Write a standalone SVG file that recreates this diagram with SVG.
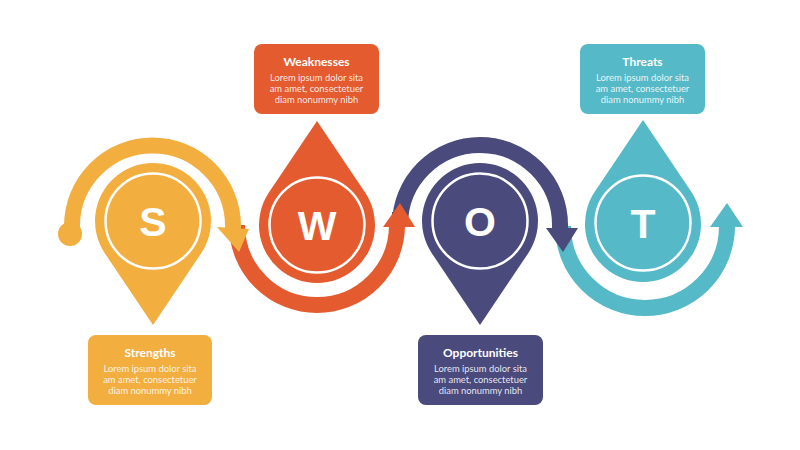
<svg xmlns="http://www.w3.org/2000/svg" xmlns:xlink="http://www.w3.org/1999/xlink" width="800" height="450" viewBox="0 0 800 450">
<style>
.title{font-family:Lato,"Open Sans","Liberation Sans",sans-serif;font-weight:bold;font-size:12px;fill:#fff;text-anchor:middle}
.body{font-family:Lato,"Open Sans","Liberation Sans",sans-serif;font-size:9.4px;fill:#fff;fill-opacity:0.88;text-anchor:middle}
.letter{font-family:"Liberation Sans",Arial,sans-serif;font-weight:bold;font-size:41px;fill:#fff;text-anchor:middle}
.ring{fill:none;stroke:#fff;stroke-width:2.5}
.arc{fill:none;stroke-width:16}
.y{fill:#F3AE40}.o{fill:#E35B2E}.n{fill:#4A4A7D}.t{fill:#56B9C7}
.ys{stroke:#F3AE40}.os{stroke:#E35B2E}.ns{stroke:#4A4A7D}.ts{stroke:#56B9C7}
</style>
<defs>
<path id="pin" d="M0 104 L-48.1 32.4 A58 58 0 1 1 48.1 32.4 Z"/>
</defs>
<rect width="800" height="450" fill="#fff"/>
<g id="connectors">
<path class="arc ts" d="M563 238 L563 226 A82 82 0 0 0 727 226 L727 222"/>
<path class="arc ns" d="M400 212 L400 225 A80 80 0 0 1 560 225 L560 232"/>
<path class="arc os" d="M237 238 L237 225 A80 80 0 0 0 397 225 L397 222"/>
<path class="arc ys" d="M72 234 L72 226 A80.5 80.5 0 0 1 233 226 L233 232"/>
<circle class="y" cx="70" cy="234" r="12"/>
<polygon class="y" points="217,227 249,229 239,252"/>
<polygon class="o" points="383,227 415,227 400,203"/>
<polygon class="n" points="546,228 578,228 563,252"/>
<polygon class="t" points="710,227 743,227 727,203"/>
</g>
<g id="node-S">
<use xlink:href="#pin" href="#pin" class="y" transform="translate(153,221)"/>
<circle class="ring" cx="153" cy="221" r="47.5"/>
<text class="letter" x="153" y="236">S</text>
</g>
<g id="node-W">
<use xlink:href="#pin" href="#pin" class="o" transform="translate(317,225) rotate(180)"/>
<circle class="ring" cx="317" cy="225" r="47.5"/>
<text class="letter" x="317" y="240">W</text>
</g>
<g id="node-O">
<use xlink:href="#pin" href="#pin" class="n" transform="translate(480,221)"/>
<circle class="ring" cx="480" cy="221" r="47.5"/>
<text class="letter" x="480" y="236">O</text>
</g>
<g id="node-T">
<use xlink:href="#pin" href="#pin" class="t" transform="translate(643,224) rotate(180)"/>
<circle class="ring" cx="643" cy="223" r="47.5"/>
<text class="letter" x="643" y="238">T</text>
</g>
<g id="box-strengths">
<rect class="y" x="88" y="335" width="124" height="70" rx="8"/>
<text class="title" x="150" y="357">Strengths</text>
<text class="body" x="150" y="372">Lorem ipsum dolor sita</text>
<text class="body" x="150" y="383">am amet, consectetuer</text>
<text class="body" x="150" y="394">diam nonummy  nibh</text>
</g>
<g id="box-weaknesses">
<rect class="o" x="254" y="44" width="125" height="70" rx="8"/>
<text class="title" x="316.5" y="66">Weaknesses</text>
<text class="body" x="316.5" y="81">Lorem ipsum dolor sita</text>
<text class="body" x="316.5" y="92">am amet, consectetuer</text>
<text class="body" x="316.5" y="103">diam nonummy  nibh</text>
</g>
<g id="box-opportunities">
<rect class="n" x="418" y="335" width="125" height="70" rx="8"/>
<text class="title" x="480.5" y="357">Opportunities</text>
<text class="body" x="480.5" y="372">Lorem ipsum dolor sita</text>
<text class="body" x="480.5" y="383">am amet, consectetuer</text>
<text class="body" x="480.5" y="394">diam nonummy  nibh</text>
</g>
<g id="box-threats">
<rect class="t" x="580" y="44" width="125" height="70" rx="8"/>
<text class="title" x="642.5" y="66">Threats</text>
<text class="body" x="642.5" y="81">Lorem ipsum dolor sita</text>
<text class="body" x="642.5" y="92">am amet, consectetuer</text>
<text class="body" x="642.5" y="103">diam nonummy  nibh</text>
</g>
</svg>
